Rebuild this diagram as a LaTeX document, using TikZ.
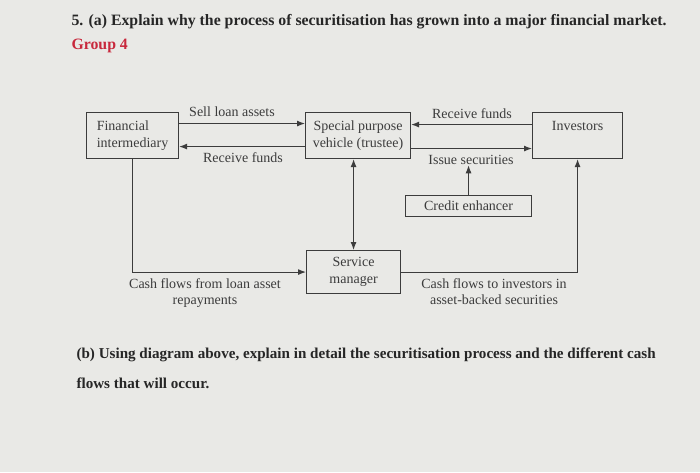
\documentclass[tikz,border=0pt]{standalone}
\usepackage{fontspec}
\setmainfont{Liberation Serif}
\usetikzlibrary{positioning,arrows.meta}
\definecolor{paper}{RGB}{233,233,230}
\definecolor{ink}{RGB}{60,60,60}
\definecolor{grpred}{RGB}{200,40,60}

\begin{document}
\begin{tikzpicture}[x=1pt, y=-1pt, >={Latex[length=8pt,width=6pt]}, line width=1.1pt,
  box/.style={draw=ink, text=ink, align=center, inner sep=0pt, font=\fontsize{14}{17}\selectfont},
  lbl/.style={text=ink, align=center, inner sep=0pt, font=\fontsize{14}{16}\selectfont},
  qtext/.style={anchor=west, inner sep=0pt, text=black!85, font=\bfseries\fontsize{15.8}{18}\selectfont},
  flow/.style={draw=ink, ->}]
  \useasboundingbox (0,0) rectangle (700,472);
  \fill[paper] (0,0) rectangle (700,472);

  % question text
  \node[qtext] (qa) at (71,22) {5. (a) Explain why the process of securitisation has grown into a major financial market.};
  \node[qtext, text=grpred] (grp) at (71,46) {Group 4};
  \node[qtext, font=\bfseries\fontsize{15.1}{18}\selectfont] (qb1) at (76,355) {(b) Using diagram above, explain in detail the securitisation process and the different cash};
  \node[qtext, font=\bfseries\fontsize{15.1}{18}\selectfont] (qb2) at (76,383) {flows that will occur.};

  % boxes
  \node[box, anchor=north west, minimum width=92pt, minimum height=46pt, align=left] (fi) at (86,112) {Financial\\intermediary};
  \node[box, anchor=north west, minimum width=105pt, minimum height=46pt] (spv) at (305,112) {Special purpose\\vehicle (trustee)};
  \node[box, anchor=north west, minimum width=90pt, minimum height=46pt] (inv) at (532,112) {};
  \node[lbl, anchor=north] (invtxt) at ([yshift=-9pt]inv.north) {Investors};
  \node[box, anchor=north west, minimum width=126pt, minimum height=21pt] (ce) at (405,195) {Credit enhancer};
  \node[box, anchor=north west, minimum width=94pt, minimum height=43pt] (sm) at (306,250) {Service\\manager};

  % labels
  \node[lbl] (sell) at (232,112) {Sell loan assets};
  \node[lbl] (recl) at (243,158) {Receive funds};
  \node[lbl] (recr) at (472,114) {Receive funds};
  \node[lbl] (issue) at (471,160) {Issue securities};
  \node[lbl] (cfl) at (205,293) {Cash flows from loan asset\\repayments};
  \node[lbl] (cfi) at (494,292) {Cash flows to investors in\\asset-backed securities};

  % flows
  \draw[flow] ([yshift=12pt]fi.east) -- ([yshift=12pt]spv.west);
  \draw[flow] ([yshift=-11pt]spv.west) -- ([yshift=-11pt]fi.east);
  \draw[flow] ([yshift=11pt]inv.west) -- ([yshift=11pt]spv.east);
  \draw[flow] ([yshift=-13pt]spv.east) -- ([yshift=-13pt]inv.west);
  \draw[flow] (ce.north) -- (ce.north |- issue.south);
  \draw[flow, <->] (spv.south -| sm.north) -- (sm.north);
  \draw[flow] (fi.south) |- (sm.west);
  \draw[flow] (sm.east) -| (inv.south);
\end{tikzpicture}
\end{document}
